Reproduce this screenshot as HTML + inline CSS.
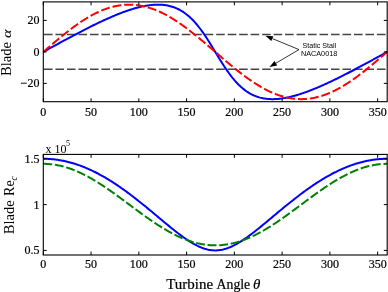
<!DOCTYPE html><html><head><meta charset="utf-8"><style>html,body{margin:0;padding:0;background:#fff;width:388px;height:292px;overflow:hidden}svg{display:block}</style></head><body>
<svg width="388" height="292" viewBox="0 0 388 292">
<rect width="388" height="292" fill="#fff"/>
<g><path d="M44,34.58 H387.2" stroke="#454545" stroke-width="1.5" stroke-dasharray="8.6 2.88" fill="none"/><path d="M44,69.22 H387.2" stroke="#454545" stroke-width="1.5" stroke-dasharray="8.6 2.88" fill="none"/><path d="M43.30,51.90 L44.26,51.38 L45.21,50.85 L46.17,50.33 L47.12,49.80 L48.08,49.28 L49.03,48.75 L49.99,48.23 L50.94,47.70 L51.90,47.18 L52.85,46.66 L53.81,46.13 L54.76,45.61 L55.72,45.09 L56.67,44.57 L57.63,44.05 L58.58,43.52 L59.54,43.00 L60.49,42.48 L61.45,41.97 L62.41,41.45 L63.36,40.93 L64.32,40.41 L65.27,39.90 L66.23,39.38 L67.18,38.87 L68.14,38.36 L69.09,37.84 L70.05,37.33 L71.00,36.82 L71.96,36.31 L72.91,35.81 L73.87,35.30 L74.82,34.79 L75.78,34.29 L76.73,33.79 L77.69,33.29 L78.65,32.79 L79.60,32.29 L80.56,31.79 L81.51,31.30 L82.47,30.80 L83.42,30.31 L84.38,29.82 L85.33,29.33 L86.29,28.84 L87.24,28.36 L88.20,27.88 L89.15,27.40 L90.11,26.92 L91.06,26.44 L92.02,25.97 L92.97,25.49 L93.93,25.02 L94.88,24.56 L95.84,24.09 L96.80,23.63 L97.75,23.17 L98.71,22.71 L99.66,22.26 L100.62,21.81 L101.57,21.36 L102.53,20.91 L103.48,20.47 L104.44,20.03 L105.39,19.60 L106.35,19.16 L107.30,18.73 L108.26,18.31 L109.21,17.89 L110.17,17.47 L111.12,17.05 L112.08,16.64 L113.04,16.24 L113.99,15.83 L114.95,15.43 L115.90,15.04 L116.86,14.65 L117.81,14.27 L118.77,13.89 L119.72,13.51 L120.68,13.14 L121.63,12.78 L122.59,12.42 L123.54,12.06 L124.50,11.71 L125.45,11.37 L126.41,11.03 L127.36,10.70 L128.32,10.38 L129.27,10.06 L130.23,9.75 L131.19,9.44 L132.14,9.15 L133.10,8.85 L134.05,8.57 L135.01,8.30 L135.96,8.03 L136.92,7.77 L137.87,7.52 L138.83,7.27 L139.78,7.04 L140.74,6.81 L141.69,6.60 L142.65,6.39 L143.60,6.19 L144.56,6.01 L145.51,5.83 L146.47,5.67 L147.43,5.51 L148.38,5.37 L149.34,5.24 L150.29,5.12 L151.25,5.01 L152.20,4.92 L153.16,4.84 L154.11,4.77 L155.07,4.72 L156.02,4.68 L156.98,4.66 L157.93,4.65 L158.89,4.66 L159.84,4.68 L160.80,4.72 L161.75,4.78 L162.71,4.86 L163.66,4.95 L164.62,5.07 L165.58,5.20 L166.53,5.36 L167.49,5.53 L168.44,5.73 L169.40,5.94 L170.35,6.18 L171.31,6.45 L172.26,6.74 L173.22,7.05 L174.17,7.39 L175.13,7.75 L176.08,8.14 L177.04,8.56 L177.99,9.01 L178.95,9.49 L179.90,9.99 L180.86,10.53 L181.82,11.10 L182.77,11.70 L183.73,12.33 L184.68,12.99 L185.64,13.69 L186.59,14.42 L187.55,15.19 L188.50,16.00 L189.46,16.84 L190.41,17.71 L191.37,18.62 L192.32,19.57 L193.28,20.56 L194.23,21.58 L195.19,22.64 L196.14,23.74 L197.10,24.88 L198.06,26.05 L199.01,27.25 L199.97,28.49 L200.92,29.77 L201.88,31.08 L202.83,32.42 L203.79,33.79 L204.74,35.19 L205.70,36.61 L206.65,38.06 L207.61,39.54 L208.56,41.04 L209.52,42.55 L210.47,44.08 L211.43,45.63 L212.38,47.19 L213.34,48.75 L214.29,50.33 L215.25,51.90 L216.21,53.47 L217.16,55.05 L218.12,56.61 L219.07,58.17 L220.03,59.72 L220.98,61.25 L221.94,62.76 L222.89,64.26 L223.85,65.74 L224.80,67.19 L225.76,68.61 L226.71,70.01 L227.67,71.38 L228.62,72.72 L229.58,74.03 L230.53,75.31 L231.49,76.55 L232.44,77.75 L233.40,78.92 L234.36,80.06 L235.31,81.16 L236.27,82.22 L237.22,83.24 L238.18,84.23 L239.13,85.18 L240.09,86.09 L241.04,86.96 L242.00,87.80 L242.95,88.61 L243.91,89.38 L244.86,90.11 L245.82,90.81 L246.77,91.47 L247.73,92.10 L248.68,92.70 L249.64,93.27 L250.60,93.81 L251.55,94.31 L252.51,94.79 L253.46,95.24 L254.42,95.66 L255.37,96.05 L256.33,96.41 L257.28,96.75 L258.24,97.06 L259.19,97.35 L260.15,97.62 L261.10,97.86 L262.06,98.07 L263.01,98.27 L263.97,98.44 L264.92,98.60 L265.88,98.73 L266.83,98.85 L267.79,98.94 L268.75,99.02 L269.70,99.08 L270.66,99.12 L271.61,99.14 L272.57,99.15 L273.52,99.14 L274.48,99.12 L275.43,99.08 L276.39,99.03 L277.34,98.96 L278.30,98.88 L279.25,98.79 L280.21,98.68 L281.16,98.56 L282.12,98.43 L283.07,98.29 L284.03,98.13 L284.99,97.97 L285.94,97.79 L286.90,97.61 L287.85,97.41 L288.81,97.20 L289.76,96.99 L290.72,96.76 L291.67,96.53 L292.63,96.28 L293.58,96.03 L294.54,95.77 L295.49,95.50 L296.45,95.23 L297.40,94.95 L298.36,94.65 L299.31,94.36 L300.27,94.05 L301.23,93.74 L302.18,93.42 L303.14,93.10 L304.09,92.77 L305.05,92.43 L306.00,92.09 L306.96,91.74 L307.91,91.38 L308.87,91.02 L309.82,90.66 L310.78,90.29 L311.73,89.91 L312.69,89.53 L313.64,89.15 L314.60,88.76 L315.55,88.37 L316.51,87.97 L317.46,87.56 L318.42,87.16 L319.38,86.75 L320.33,86.33 L321.29,85.91 L322.24,85.49 L323.20,85.07 L324.15,84.64 L325.11,84.20 L326.06,83.77 L327.02,83.33 L327.97,82.89 L328.93,82.44 L329.88,81.99 L330.84,81.54 L331.79,81.09 L332.75,80.63 L333.70,80.17 L334.66,79.71 L335.62,79.24 L336.57,78.78 L337.53,78.31 L338.48,77.83 L339.44,77.36 L340.39,76.88 L341.35,76.40 L342.30,75.92 L343.26,75.44 L344.21,74.96 L345.17,74.47 L346.12,73.98 L347.08,73.49 L348.03,73.00 L348.99,72.50 L349.94,72.01 L350.90,71.51 L351.85,71.01 L352.81,70.51 L353.77,70.01 L354.72,69.51 L355.68,69.01 L356.63,68.50 L357.59,67.99 L358.54,67.49 L359.50,66.98 L360.45,66.47 L361.41,65.96 L362.36,65.44 L363.32,64.93 L364.27,64.42 L365.23,63.90 L366.18,63.39 L367.14,62.87 L368.09,62.35 L369.05,61.83 L370.00,61.32 L370.96,60.80 L371.92,60.28 L372.87,59.75 L373.83,59.23 L374.78,58.71 L375.74,58.19 L376.69,57.67 L377.65,57.14 L378.60,56.62 L379.56,56.10 L380.51,55.57 L381.47,55.05 L382.42,54.52 L383.38,54.00 L384.33,53.47 L385.29,52.95 L386.24,52.42 L387.20,51.90" stroke="#0000ff" stroke-width="2" fill="none" stroke-linejoin="round"/><path d="M43.30,51.90 L44.26,51.08 L45.21,50.25 L46.17,49.43 L47.12,48.60 L48.08,47.78 L49.03,46.96 L49.99,46.14 L50.94,45.32 L51.90,44.51 L52.85,43.70 L53.81,42.88 L54.76,42.08 L55.72,41.27 L56.67,40.47 L57.63,39.67 L58.58,38.88 L59.54,38.09 L60.49,37.30 L61.45,36.52 L62.41,35.74 L63.36,34.97 L64.32,34.20 L65.27,33.44 L66.23,32.68 L67.18,31.93 L68.14,31.19 L69.09,30.45 L70.05,29.72 L71.00,28.99 L71.96,28.28 L72.91,27.56 L73.87,26.86 L74.82,26.17 L75.78,25.48 L76.73,24.80 L77.69,24.13 L78.65,23.46 L79.60,22.81 L80.56,22.16 L81.51,21.53 L82.47,20.90 L83.42,20.28 L84.38,19.68 L85.33,19.08 L86.29,18.49 L87.24,17.91 L88.20,17.34 L89.15,16.79 L90.11,16.24 L91.06,15.70 L92.02,15.18 L92.97,14.67 L93.93,14.16 L94.88,13.67 L95.84,13.20 L96.80,12.73 L97.75,12.27 L98.71,11.83 L99.66,11.40 L100.62,10.98 L101.57,10.57 L102.53,10.18 L103.48,9.80 L104.44,9.43 L105.39,9.08 L106.35,8.73 L107.30,8.41 L108.26,8.09 L109.21,7.79 L110.17,7.50 L111.12,7.22 L112.08,6.96 L113.04,6.71 L113.99,6.48 L114.95,6.26 L115.90,6.05 L116.86,5.86 L117.81,5.68 L118.77,5.52 L119.72,5.37 L120.68,5.23 L121.63,5.11 L122.59,5.00 L123.54,4.91 L124.50,4.83 L125.45,4.77 L126.41,4.71 L127.36,4.68 L128.32,4.66 L129.27,4.65 L130.23,4.66 L131.19,4.68 L132.14,4.71 L133.10,4.77 L134.05,4.83 L135.01,4.91 L135.96,5.00 L136.92,5.11 L137.87,5.23 L138.83,5.37 L139.78,5.52 L140.74,5.68 L141.69,5.86 L142.65,6.05 L143.60,6.26 L144.56,6.48 L145.51,6.71 L146.47,6.96 L147.43,7.22 L148.38,7.50 L149.34,7.79 L150.29,8.09 L151.25,8.41 L152.20,8.73 L153.16,9.08 L154.11,9.43 L155.07,9.80 L156.02,10.18 L156.98,10.57 L157.93,10.98 L158.89,11.40 L159.84,11.83 L160.80,12.27 L161.75,12.73 L162.71,13.20 L163.66,13.67 L164.62,14.16 L165.58,14.67 L166.53,15.18 L167.49,15.70 L168.44,16.24 L169.40,16.79 L170.35,17.34 L171.31,17.91 L172.26,18.49 L173.22,19.08 L174.17,19.68 L175.13,20.28 L176.08,20.90 L177.04,21.53 L177.99,22.16 L178.95,22.81 L179.90,23.46 L180.86,24.13 L181.82,24.80 L182.77,25.48 L183.73,26.17 L184.68,26.86 L185.64,27.56 L186.59,28.28 L187.55,28.99 L188.50,29.72 L189.46,30.45 L190.41,31.19 L191.37,31.93 L192.32,32.68 L193.28,33.44 L194.23,34.20 L195.19,34.97 L196.14,35.74 L197.10,36.52 L198.06,37.30 L199.01,38.09 L199.97,38.88 L200.92,39.67 L201.88,40.47 L202.83,41.27 L203.79,42.08 L204.74,42.88 L205.70,43.70 L206.65,44.51 L207.61,45.32 L208.56,46.14 L209.52,46.96 L210.47,47.78 L211.43,48.60 L212.38,49.43 L213.34,50.25 L214.29,51.08 L215.25,51.90 L216.21,52.72 L217.16,53.55 L218.12,54.37 L219.07,55.20 L220.03,56.02 L220.98,56.84 L221.94,57.66 L222.89,58.48 L223.85,59.29 L224.80,60.10 L225.76,60.92 L226.71,61.72 L227.67,62.53 L228.62,63.33 L229.58,64.13 L230.53,64.92 L231.49,65.71 L232.44,66.50 L233.40,67.28 L234.36,68.06 L235.31,68.83 L236.27,69.60 L237.22,70.36 L238.18,71.12 L239.13,71.87 L240.09,72.61 L241.04,73.35 L242.00,74.08 L242.95,74.81 L243.91,75.53 L244.86,76.24 L245.82,76.94 L246.77,77.63 L247.73,78.32 L248.68,79.00 L249.64,79.67 L250.60,80.34 L251.55,80.99 L252.51,81.64 L253.46,82.27 L254.42,82.90 L255.37,83.52 L256.33,84.12 L257.28,84.72 L258.24,85.31 L259.19,85.89 L260.15,86.46 L261.10,87.01 L262.06,87.56 L263.01,88.10 L263.97,88.62 L264.92,89.13 L265.88,89.64 L266.83,90.13 L267.79,90.60 L268.75,91.07 L269.70,91.53 L270.66,91.97 L271.61,92.40 L272.57,92.82 L273.52,93.23 L274.48,93.62 L275.43,94.00 L276.39,94.37 L277.34,94.72 L278.30,95.07 L279.25,95.39 L280.21,95.71 L281.16,96.01 L282.12,96.30 L283.07,96.58 L284.03,96.84 L284.99,97.09 L285.94,97.32 L286.90,97.54 L287.85,97.75 L288.81,97.94 L289.76,98.12 L290.72,98.28 L291.67,98.43 L292.63,98.57 L293.58,98.69 L294.54,98.80 L295.49,98.89 L296.45,98.97 L297.40,99.03 L298.36,99.09 L299.31,99.12 L300.27,99.14 L301.23,99.15 L302.18,99.14 L303.14,99.12 L304.09,99.09 L305.05,99.03 L306.00,98.97 L306.96,98.89 L307.91,98.80 L308.87,98.69 L309.82,98.57 L310.78,98.43 L311.73,98.28 L312.69,98.12 L313.64,97.94 L314.60,97.75 L315.55,97.54 L316.51,97.32 L317.46,97.09 L318.42,96.84 L319.38,96.58 L320.33,96.30 L321.29,96.01 L322.24,95.71 L323.20,95.39 L324.15,95.07 L325.11,94.72 L326.06,94.37 L327.02,94.00 L327.97,93.62 L328.93,93.23 L329.88,92.82 L330.84,92.40 L331.79,91.97 L332.75,91.53 L333.70,91.07 L334.66,90.60 L335.62,90.13 L336.57,89.64 L337.53,89.13 L338.48,88.62 L339.44,88.10 L340.39,87.56 L341.35,87.01 L342.30,86.46 L343.26,85.89 L344.21,85.31 L345.17,84.72 L346.12,84.12 L347.08,83.52 L348.03,82.90 L348.99,82.27 L349.94,81.64 L350.90,80.99 L351.85,80.34 L352.81,79.67 L353.77,79.00 L354.72,78.32 L355.68,77.63 L356.63,76.94 L357.59,76.24 L358.54,75.53 L359.50,74.81 L360.45,74.08 L361.41,73.35 L362.36,72.61 L363.32,71.87 L364.27,71.12 L365.23,70.36 L366.18,69.60 L367.14,68.83 L368.09,68.06 L369.05,67.28 L370.00,66.50 L370.96,65.71 L371.92,64.92 L372.87,64.13 L373.83,63.33 L374.78,62.53 L375.74,61.72 L376.69,60.92 L377.65,60.10 L378.60,59.29 L379.56,58.48 L380.51,57.66 L381.47,56.84 L382.42,56.02 L383.38,55.20 L384.33,54.37 L385.29,53.55 L386.24,52.72 L387.20,51.90" stroke="#ff0000" stroke-width="2" stroke-dasharray="9 2.9" fill="none"/></g>
<rect x="43.3" y="1.9" width="343.90" height="99.80" fill="none" stroke="#000" stroke-width="1.1"/>
<path d="M43.30,101.7 v-3.4 M43.30,1.9 v3.4 M91.06,101.7 v-3.4 M91.06,1.9 v3.4 M138.83,101.7 v-3.4 M138.83,1.9 v3.4 M186.59,101.7 v-3.4 M186.59,1.9 v3.4 M234.36,101.7 v-3.4 M234.36,1.9 v3.4 M282.12,101.7 v-3.4 M282.12,1.9 v3.4 M329.88,101.7 v-3.4 M329.88,1.9 v3.4 M377.65,101.7 v-3.4 M377.65,1.9 v3.4 M43.3,83.40 h3.4 M387.2,83.40 h-3.4 M43.3,51.90 h3.4 M387.2,51.90 h-3.4 M43.3,20.40 h3.4 M387.2,20.40 h-3.4" stroke="#000" stroke-width="1" fill="none"/>
<g><path d="M43.30,158.80 L44.26,158.80 L45.21,158.82 L46.17,158.84 L47.12,158.87 L48.08,158.92 L49.03,158.97 L49.99,159.03 L50.94,159.10 L51.90,159.18 L52.85,159.26 L53.81,159.36 L54.76,159.47 L55.72,159.58 L56.67,159.71 L57.63,159.84 L58.58,159.99 L59.54,160.14 L60.49,160.30 L61.45,160.47 L62.41,160.65 L63.36,160.84 L64.32,161.04 L65.27,161.25 L66.23,161.47 L67.18,161.69 L68.14,161.93 L69.09,162.17 L70.05,162.42 L71.00,162.68 L71.96,162.95 L72.91,163.23 L73.87,163.52 L74.82,163.82 L75.78,164.12 L76.73,164.44 L77.69,164.76 L78.65,165.09 L79.60,165.43 L80.56,165.78 L81.51,166.14 L82.47,166.51 L83.42,166.88 L84.38,167.26 L85.33,167.65 L86.29,168.05 L87.24,168.46 L88.20,168.88 L89.15,169.30 L90.11,169.74 L91.06,170.18 L92.02,170.63 L92.97,171.08 L93.93,171.55 L94.88,172.02 L95.84,172.50 L96.80,172.99 L97.75,173.49 L98.71,173.99 L99.66,174.51 L100.62,175.02 L101.57,175.55 L102.53,176.09 L103.48,176.63 L104.44,177.18 L105.39,177.73 L106.35,178.30 L107.30,178.87 L108.26,179.45 L109.21,180.03 L110.17,180.62 L111.12,181.22 L112.08,181.83 L113.04,182.44 L113.99,183.06 L114.95,183.68 L115.90,184.32 L116.86,184.95 L117.81,185.60 L118.77,186.25 L119.72,186.91 L120.68,187.57 L121.63,188.24 L122.59,188.91 L123.54,189.59 L124.50,190.28 L125.45,190.97 L126.41,191.67 L127.36,192.37 L128.32,193.08 L129.27,193.79 L130.23,194.51 L131.19,195.23 L132.14,195.95 L133.10,196.69 L134.05,197.42 L135.01,198.16 L135.96,198.91 L136.92,199.66 L137.87,200.41 L138.83,201.17 L139.78,201.93 L140.74,202.69 L141.69,203.46 L142.65,204.23 L143.60,205.00 L144.56,205.78 L145.51,206.56 L146.47,207.34 L147.43,208.13 L148.38,208.92 L149.34,209.71 L150.29,210.50 L151.25,211.29 L152.20,212.08 L153.16,212.88 L154.11,213.68 L155.07,214.48 L156.02,215.27 L156.98,216.07 L157.93,216.87 L158.89,217.67 L159.84,218.47 L160.80,219.27 L161.75,220.07 L162.71,220.86 L163.66,221.66 L164.62,222.45 L165.58,223.24 L166.53,224.03 L167.49,224.82 L168.44,225.61 L169.40,226.39 L170.35,227.16 L171.31,227.94 L172.26,228.71 L173.22,229.47 L174.17,230.23 L175.13,230.99 L176.08,231.73 L177.04,232.48 L177.99,233.21 L178.95,233.94 L179.90,234.66 L180.86,235.37 L181.82,236.07 L182.77,236.77 L183.73,237.45 L184.68,238.13 L185.64,238.79 L186.59,239.44 L187.55,240.08 L188.50,240.70 L189.46,241.32 L190.41,241.92 L191.37,242.50 L192.32,243.07 L193.28,243.62 L194.23,244.16 L195.19,244.67 L196.14,245.17 L197.10,245.66 L198.06,246.12 L199.01,246.56 L199.97,246.98 L200.92,247.38 L201.88,247.76 L202.83,248.11 L203.79,248.44 L204.74,248.75 L205.70,249.03 L206.65,249.29 L207.61,249.52 L208.56,249.72 L209.52,249.90 L210.47,250.05 L211.43,250.18 L212.38,250.27 L213.34,250.34 L214.29,250.39 L215.25,250.40 L216.21,250.39 L217.16,250.34 L218.12,250.27 L219.07,250.18 L220.03,250.05 L220.98,249.90 L221.94,249.72 L222.89,249.52 L223.85,249.29 L224.80,249.03 L225.76,248.75 L226.71,248.44 L227.67,248.11 L228.62,247.76 L229.58,247.38 L230.53,246.98 L231.49,246.56 L232.44,246.12 L233.40,245.66 L234.36,245.17 L235.31,244.67 L236.27,244.16 L237.22,243.62 L238.18,243.07 L239.13,242.50 L240.09,241.92 L241.04,241.32 L242.00,240.70 L242.95,240.08 L243.91,239.44 L244.86,238.79 L245.82,238.13 L246.77,237.45 L247.73,236.77 L248.68,236.07 L249.64,235.37 L250.60,234.66 L251.55,233.94 L252.51,233.21 L253.46,232.48 L254.42,231.73 L255.37,230.99 L256.33,230.23 L257.28,229.47 L258.24,228.71 L259.19,227.94 L260.15,227.16 L261.10,226.39 L262.06,225.61 L263.01,224.82 L263.97,224.03 L264.92,223.24 L265.88,222.45 L266.83,221.66 L267.79,220.86 L268.75,220.07 L269.70,219.27 L270.66,218.47 L271.61,217.67 L272.57,216.87 L273.52,216.07 L274.48,215.27 L275.43,214.48 L276.39,213.68 L277.34,212.88 L278.30,212.08 L279.25,211.29 L280.21,210.50 L281.16,209.71 L282.12,208.92 L283.07,208.13 L284.03,207.34 L284.99,206.56 L285.94,205.78 L286.90,205.00 L287.85,204.23 L288.81,203.46 L289.76,202.69 L290.72,201.93 L291.67,201.17 L292.63,200.41 L293.58,199.66 L294.54,198.91 L295.49,198.16 L296.45,197.42 L297.40,196.69 L298.36,195.95 L299.31,195.23 L300.27,194.51 L301.23,193.79 L302.18,193.08 L303.14,192.37 L304.09,191.67 L305.05,190.97 L306.00,190.28 L306.96,189.59 L307.91,188.91 L308.87,188.24 L309.82,187.57 L310.78,186.91 L311.73,186.25 L312.69,185.60 L313.64,184.95 L314.60,184.32 L315.55,183.68 L316.51,183.06 L317.46,182.44 L318.42,181.83 L319.38,181.22 L320.33,180.62 L321.29,180.03 L322.24,179.45 L323.20,178.87 L324.15,178.30 L325.11,177.73 L326.06,177.18 L327.02,176.63 L327.97,176.09 L328.93,175.55 L329.88,175.02 L330.84,174.51 L331.79,173.99 L332.75,173.49 L333.70,172.99 L334.66,172.50 L335.62,172.02 L336.57,171.55 L337.53,171.08 L338.48,170.63 L339.44,170.18 L340.39,169.74 L341.35,169.30 L342.30,168.88 L343.26,168.46 L344.21,168.05 L345.17,167.65 L346.12,167.26 L347.08,166.88 L348.03,166.51 L348.99,166.14 L349.94,165.78 L350.90,165.43 L351.85,165.09 L352.81,164.76 L353.77,164.44 L354.72,164.12 L355.68,163.82 L356.63,163.52 L357.59,163.23 L358.54,162.95 L359.50,162.68 L360.45,162.42 L361.41,162.17 L362.36,161.93 L363.32,161.69 L364.27,161.47 L365.23,161.25 L366.18,161.04 L367.14,160.84 L368.09,160.65 L369.05,160.47 L370.00,160.30 L370.96,160.14 L371.92,159.99 L372.87,159.84 L373.83,159.71 L374.78,159.58 L375.74,159.47 L376.69,159.36 L377.65,159.26 L378.60,159.18 L379.56,159.10 L380.51,159.03 L381.47,158.97 L382.42,158.92 L383.38,158.87 L384.33,158.84 L385.29,158.82 L386.24,158.80 L387.20,158.80" stroke="#0000ff" stroke-width="2" fill="none"/><path d="M43.30,163.84 L44.26,163.84 L45.21,163.86 L46.17,163.89 L47.12,163.94 L48.08,163.99 L49.03,164.06 L49.99,164.14 L50.94,164.23 L51.90,164.34 L52.85,164.46 L53.81,164.59 L54.76,164.73 L55.72,164.88 L56.67,165.05 L57.63,165.23 L58.58,165.42 L59.54,165.62 L60.49,165.83 L61.45,166.06 L62.41,166.30 L63.36,166.55 L64.32,166.81 L65.27,167.08 L66.23,167.36 L67.18,167.66 L68.14,167.96 L69.09,168.28 L70.05,168.61 L71.00,168.95 L71.96,169.30 L72.91,169.66 L73.87,170.03 L74.82,170.41 L75.78,170.81 L76.73,171.21 L77.69,171.62 L78.65,172.05 L79.60,172.48 L80.56,172.92 L81.51,173.37 L82.47,173.84 L83.42,174.31 L84.38,174.79 L85.33,175.28 L86.29,175.78 L87.24,176.28 L88.20,176.80 L89.15,177.32 L90.11,177.86 L91.06,178.40 L92.02,178.95 L92.97,179.50 L93.93,180.07 L94.88,180.64 L95.84,181.22 L96.80,181.81 L97.75,182.40 L98.71,183.00 L99.66,183.61 L100.62,184.22 L101.57,184.84 L102.53,185.46 L103.48,186.09 L104.44,186.73 L105.39,187.37 L106.35,188.02 L107.30,188.67 L108.26,189.33 L109.21,189.99 L110.17,190.66 L111.12,191.33 L112.08,192.00 L113.04,192.68 L113.99,193.36 L114.95,194.05 L115.90,194.74 L116.86,195.43 L117.81,196.13 L118.77,196.82 L119.72,197.52 L120.68,198.22 L121.63,198.93 L122.59,199.63 L123.54,200.34 L124.50,201.05 L125.45,201.76 L126.41,202.47 L127.36,203.18 L128.32,203.89 L129.27,204.60 L130.23,205.31 L131.19,206.02 L132.14,206.73 L133.10,207.44 L134.05,208.15 L135.01,208.86 L135.96,209.57 L136.92,210.27 L137.87,210.98 L138.83,211.68 L139.78,212.38 L140.74,213.07 L141.69,213.77 L142.65,214.46 L143.60,215.15 L144.56,215.84 L145.51,216.52 L146.47,217.20 L147.43,217.87 L148.38,218.54 L149.34,219.21 L150.29,219.87 L151.25,220.53 L152.20,221.18 L153.16,221.83 L154.11,222.47 L155.07,223.11 L156.02,223.74 L156.98,224.36 L157.93,224.98 L158.89,225.59 L159.84,226.20 L160.80,226.80 L161.75,227.39 L162.71,227.98 L163.66,228.56 L164.62,229.13 L165.58,229.70 L166.53,230.25 L167.49,230.80 L168.44,231.34 L169.40,231.88 L170.35,232.40 L171.31,232.92 L172.26,233.42 L173.22,233.92 L174.17,234.41 L175.13,234.89 L176.08,235.36 L177.04,235.83 L177.99,236.28 L178.95,236.72 L179.90,237.15 L180.86,237.58 L181.82,237.99 L182.77,238.39 L183.73,238.79 L184.68,239.17 L185.64,239.54 L186.59,239.90 L187.55,240.25 L188.50,240.59 L189.46,240.92 L190.41,241.24 L191.37,241.54 L192.32,241.84 L193.28,242.12 L194.23,242.39 L195.19,242.65 L196.14,242.90 L197.10,243.14 L198.06,243.37 L199.01,243.58 L199.97,243.78 L200.92,243.97 L201.88,244.15 L202.83,244.32 L203.79,244.47 L204.74,244.61 L205.70,244.74 L206.65,244.86 L207.61,244.97 L208.56,245.06 L209.52,245.14 L210.47,245.21 L211.43,245.26 L212.38,245.31 L213.34,245.34 L214.29,245.36 L215.25,245.36 L216.21,245.36 L217.16,245.34 L218.12,245.31 L219.07,245.26 L220.03,245.21 L220.98,245.14 L221.94,245.06 L222.89,244.97 L223.85,244.86 L224.80,244.74 L225.76,244.61 L226.71,244.47 L227.67,244.32 L228.62,244.15 L229.58,243.97 L230.53,243.78 L231.49,243.58 L232.44,243.37 L233.40,243.14 L234.36,242.90 L235.31,242.65 L236.27,242.39 L237.22,242.12 L238.18,241.84 L239.13,241.54 L240.09,241.24 L241.04,240.92 L242.00,240.59 L242.95,240.25 L243.91,239.90 L244.86,239.54 L245.82,239.17 L246.77,238.79 L247.73,238.39 L248.68,237.99 L249.64,237.58 L250.60,237.15 L251.55,236.72 L252.51,236.28 L253.46,235.83 L254.42,235.36 L255.37,234.89 L256.33,234.41 L257.28,233.92 L258.24,233.42 L259.19,232.92 L260.15,232.40 L261.10,231.88 L262.06,231.34 L263.01,230.80 L263.97,230.25 L264.92,229.70 L265.88,229.13 L266.83,228.56 L267.79,227.98 L268.75,227.39 L269.70,226.80 L270.66,226.20 L271.61,225.59 L272.57,224.98 L273.52,224.36 L274.48,223.74 L275.43,223.11 L276.39,222.47 L277.34,221.83 L278.30,221.18 L279.25,220.53 L280.21,219.87 L281.16,219.21 L282.12,218.54 L283.07,217.87 L284.03,217.20 L284.99,216.52 L285.94,215.84 L286.90,215.15 L287.85,214.46 L288.81,213.77 L289.76,213.07 L290.72,212.38 L291.67,211.68 L292.63,210.98 L293.58,210.27 L294.54,209.57 L295.49,208.86 L296.45,208.15 L297.40,207.44 L298.36,206.73 L299.31,206.02 L300.27,205.31 L301.23,204.60 L302.18,203.89 L303.14,203.18 L304.09,202.47 L305.05,201.76 L306.00,201.05 L306.96,200.34 L307.91,199.63 L308.87,198.93 L309.82,198.22 L310.78,197.52 L311.73,196.82 L312.69,196.13 L313.64,195.43 L314.60,194.74 L315.55,194.05 L316.51,193.36 L317.46,192.68 L318.42,192.00 L319.38,191.33 L320.33,190.66 L321.29,189.99 L322.24,189.33 L323.20,188.67 L324.15,188.02 L325.11,187.37 L326.06,186.73 L327.02,186.09 L327.97,185.46 L328.93,184.84 L329.88,184.22 L330.84,183.61 L331.79,183.00 L332.75,182.40 L333.70,181.81 L334.66,181.22 L335.62,180.64 L336.57,180.07 L337.53,179.50 L338.48,178.95 L339.44,178.40 L340.39,177.86 L341.35,177.32 L342.30,176.80 L343.26,176.28 L344.21,175.78 L345.17,175.28 L346.12,174.79 L347.08,174.31 L348.03,173.84 L348.99,173.37 L349.94,172.92 L350.90,172.48 L351.85,172.05 L352.81,171.62 L353.77,171.21 L354.72,170.81 L355.68,170.41 L356.63,170.03 L357.59,169.66 L358.54,169.30 L359.50,168.95 L360.45,168.61 L361.41,168.28 L362.36,167.96 L363.32,167.66 L364.27,167.36 L365.23,167.08 L366.18,166.81 L367.14,166.55 L368.09,166.30 L369.05,166.06 L370.00,165.83 L370.96,165.62 L371.92,165.42 L372.87,165.23 L373.83,165.05 L374.78,164.88 L375.74,164.73 L376.69,164.59 L377.65,164.46 L378.60,164.34 L379.56,164.23 L380.51,164.14 L381.47,164.06 L382.42,163.99 L383.38,163.94 L384.33,163.89 L385.29,163.86 L386.24,163.84 L387.20,163.84" stroke="#008000" stroke-width="2" stroke-dasharray="8.9 2.73" fill="none"/></g>
<rect x="43.3" y="154.4" width="343.90" height="100.60" fill="none" stroke="#000" stroke-width="1.1"/>
<path d="M43.30,255.0 v-3.4 M43.30,154.4 v3.4 M91.06,255.0 v-3.4 M91.06,154.4 v3.4 M138.83,255.0 v-3.4 M138.83,154.4 v3.4 M186.59,255.0 v-3.4 M186.59,154.4 v3.4 M234.36,255.0 v-3.4 M234.36,154.4 v3.4 M282.12,255.0 v-3.4 M282.12,154.4 v3.4 M329.88,255.0 v-3.4 M329.88,154.4 v3.4 M377.65,255.0 v-3.4 M377.65,154.4 v3.4 M43.3,250.40 h3.4 M387.2,250.40 h-3.4 M43.3,204.60 h3.4 M387.2,204.60 h-3.4 M43.3,158.80 h3.4 M387.2,158.80 h-3.4" stroke="#000" stroke-width="1" fill="none"/>
<g font-family="Liberation Serif, serif" font-size="12" fill="#000" stroke="#000" stroke-width="0.2"><text x="43.30" y="115.6" text-anchor="middle">0</text><text x="43.30" y="268.3" text-anchor="middle">0</text><text x="91.06" y="115.6" text-anchor="middle">50</text><text x="91.06" y="268.3" text-anchor="middle">50</text><text x="138.83" y="115.6" text-anchor="middle">100</text><text x="138.83" y="268.3" text-anchor="middle">100</text><text x="186.59" y="115.6" text-anchor="middle">150</text><text x="186.59" y="268.3" text-anchor="middle">150</text><text x="234.36" y="115.6" text-anchor="middle">200</text><text x="234.36" y="268.3" text-anchor="middle">200</text><text x="282.12" y="115.6" text-anchor="middle">250</text><text x="282.12" y="268.3" text-anchor="middle">250</text><text x="329.88" y="115.6" text-anchor="middle">300</text><text x="329.88" y="268.3" text-anchor="middle">300</text><text x="377.65" y="115.6" text-anchor="middle">350</text><text x="377.65" y="268.3" text-anchor="middle">350</text><text x="39.4" y="24.40" text-anchor="end">20</text><text x="39.4" y="55.90" text-anchor="end">0</text><text x="39.4" y="87.40" text-anchor="end">−20</text><text x="39.4" y="162.80" text-anchor="end">1.5</text><text x="39.4" y="208.60" text-anchor="end">1</text><text x="39.4" y="254.40" text-anchor="end">0.5</text></g>
<text font-family="Liberation Serif, serif" font-size="12" x="45.5" y="152.7">x 10<tspan font-size="8" dx="-0.6" dy="-7.2">5</tspan></text>
<g font-family="Liberation Serif, serif" font-size="14" fill="#000">
<text transform="translate(11.1,76.0) rotate(-90)" textLength="34" lengthAdjust="spacingAndGlyphs">Blade</text>
<text transform="translate(11.1,37.9) rotate(-90) scale(1.3,1)" font-style="italic" font-size="12.5">α</text>
<text transform="translate(14.1,234.2) rotate(-90)" textLength="34" lengthAdjust="spacingAndGlyphs">Blade</text>
<text transform="translate(14.1,195.9) rotate(-90)">Re</text>
<text transform="translate(16.6,180.6) rotate(-90)" font-style="italic" font-size="9.5">c</text>
</g>
<g font-family="Liberation Serif, serif" font-size="14" fill="#000" stroke="#000" stroke-width="0.2">
<text x="166.2" y="288.6" textLength="47" lengthAdjust="spacingAndGlyphs">Turbine</text>
<text x="216.6" y="288.6" textLength="33.6" lengthAdjust="spacingAndGlyphs">Angle</text>
<text x="252.9" y="288.6" font-style="italic" font-size="15">θ</text>
</g>
<g font-family="Liberation Sans, sans-serif" font-size="8" fill="#000"><text x="302.6" y="47.9" textLength="33.6" lengthAdjust="spacingAndGlyphs">Static Stall</text><text x="300.9" y="55.6" textLength="36.4" lengthAdjust="spacingAndGlyphs">NACA0018</text></g>
<path d="M299,49.6 L272.33,38.57" stroke="#000" stroke-width="0.8" fill="none"/><path d="M265.4,35.7 L273.32,36.16 L271.34,40.97 Z" fill="#000"/>
<path d="M299,49.6 L275.87,63.20" stroke="#000" stroke-width="0.8" fill="none"/><path d="M269.4,67 L274.55,60.96 L277.18,65.44 Z" fill="#000"/>
</svg></body></html>
